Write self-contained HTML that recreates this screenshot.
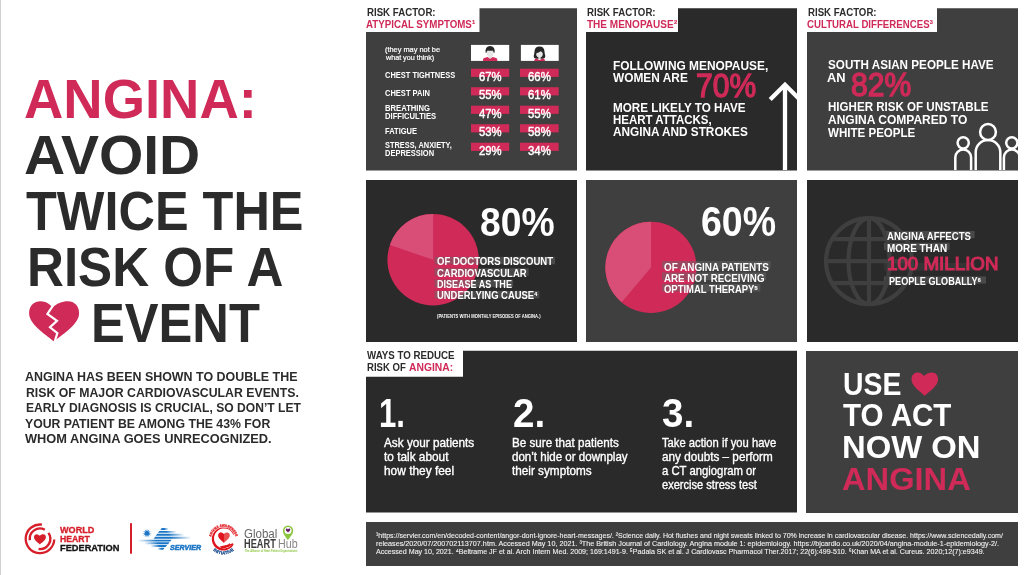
<!DOCTYPE html>
<html lang="en">
<head>
<meta charset="utf-8">
<title>Angina: avoid twice the risk of a heart event</title>
<style>
html,body{margin:0;padding:0;background:#fff}
#page{position:relative;width:1024px;height:575px;overflow:hidden;background:#fff;font-family:"Liberation Sans",sans-serif}
#page svg.bg{position:absolute;left:0;top:0}
.t{position:absolute;white-space:nowrap;line-height:1;font-weight:700;transform-origin:0 0;margin:0;padding:0}
.s{font-size:.58em;position:relative;top:-.6em;margin-left:.04em;-webkit-text-stroke:.15px currentColor}
</style>
</head>
<body>
<div id="page">
<svg class="bg" width="1024" height="575" viewBox="0 0 1024 575">
<rect x="0" y="0" width="1" height="575" fill="#d2d2d2"/>
<polygon fill="#3f3f3f" points="479.5,8.3 577,8.3 577,170.4 366,170.4 366,32 479.5,32"/>
<polygon fill="#2a2a2a" points="678,8.3 797,8.3 797,170.4 586,170.4 586,32 678,32"/>
<polygon fill="#3f3f3f" points="937,8.3 1018,8.3 1018,170.4 807,170.4 807,32 937,32"/>
<rect fill="#2a2a2a" x="366" y="180" width="211" height="162"/>
<rect fill="#3f3f3f" x="586" y="180" width="211" height="162"/>
<rect fill="#2a2a2a" x="807" y="180" width="211" height="162"/>
<polygon fill="#2a2a2a" points="463,350.8 797,350.8 797,512.6 366,512.6 366,376.7 463,376.7"/>
<rect fill="#3f3f3f" x="806" y="351" width="212" height="162"/>
<rect fill="#3f3f3f" x="366" y="522" width="652" height="44"/>
<rect fill="#fff" x="471" y="44.9" width="38.2" height="16"/>
<rect fill="#cf2a58" x="471" y="68.70" width="38.2" height="8.2"/>
<rect fill="#cf2a58" x="471" y="87.20" width="38.2" height="8.2"/>
<rect fill="#cf2a58" x="471" y="105.70" width="38.2" height="8.2"/>
<rect fill="#cf2a58" x="471" y="124.20" width="38.2" height="8.2"/>
<rect fill="#cf2a58" x="471" y="142.70" width="38.2" height="8.2"/>
<rect fill="#fff" x="520.9" y="44.9" width="37.8" height="16"/>
<rect fill="#cf2a58" x="520.0" y="68.70" width="38.7" height="8.2"/>
<rect fill="#cf2a58" x="520.0" y="87.20" width="38.7" height="8.2"/>
<rect fill="#cf2a58" x="520.0" y="105.70" width="38.7" height="8.2"/>
<rect fill="#cf2a58" x="520.0" y="124.20" width="38.7" height="8.2"/>
<rect fill="#cf2a58" x="520.0" y="142.70" width="38.7" height="8.2"/>
<clipPath id="cb1"><rect x="471" y="44.9" width="38.2" height="16"/></clipPath>
<g clip-path="url(#cb1)">
<path fill="#cf2a58" d="M483,61 L483,59.4 Q483.2,58.2 485,57.8 L487.6,56.9 L490.1,58.7 L492.6,56.9 L495.2,57.8 Q497.1,58.2 497.3,59.4 L497.3,61 Z"/>
<rect fill="#dcdcdc" x="488.7" y="55" width="2.8" height="3.2"/>
<ellipse fill="#e6e6e6" cx="490.1" cy="53.3" rx="3.4" ry="3.7"/>
<path fill="#262626" d="M485.6,52.7 Q485.0,46.1 490.1,46.1 Q495.2,46.1 494.6,52.7 L493.5,52.5 Q493.6,51.0 492.3,50.4 Q490.1,51.3 487.9,50.4 Q486.6,51.0 486.7,52.5 Z"/>
</g>
<clipPath id="cb2"><rect x="520.9" y="44.9" width="37.8" height="16"/></clipPath>
<g clip-path="url(#cb2)">
<path fill="#262626" d="M539.5,46.4 Q544.3,46.5 544.5,51.5 Q544.6,53.5 545.3,55.8 Q545.4,58.8 542.6,58.8 L536.4,58.8 Q533.6,58.8 533.7,55.8 Q534.4,53.5 534.5,51.5 Q534.7,46.5 539.5,46.4 Z"/>
<path fill="#cf2a58" d="M534.1,61 Q534.2,58.8 536.6,58.5 L539.5,60.0 L542.4,58.5 Q545.1,58.8 545.2,61 Z"/>
<rect fill="#dcdcdc" x="538.4" y="55.5" width="2.2" height="4.0"/>
<ellipse fill="#e6e6e6" cx="539.5" cy="54.0" rx="3.3" ry="3.4"/>
<path fill="#262626" d="M536.0,53.4 Q535.8,49.8 539.5,49.8 Q543.2,49.8 543.0,53.4 Q542.0,51.6 540.8,51.2 Q538.6,52.8 536.0,53.4 Z"/>
</g>
<clipPath id="cp2"><rect x="586" y="8" width="211" height="162"/></clipPath>
<g clip-path="url(#cp2)" fill="none" stroke="#fff" stroke-width="4.3">
<path d="M770.2,99.6 L785,84.8 L799.8,99.6"/>
<path d="M785,86 L785,171"/>
</g>
<clipPath id="cp3"><rect x="807" y="8" width="211" height="162"/></clipPath>
<g clip-path="url(#cp3)" fill="none" stroke="#fff" stroke-width="2.5">
<path d="M955.3000000000001,172 L955.3000000000001,157.5 A7.9,7.9 0 0 1 971.1,157.5 L971.1,172" fill="#3f3f3f"/>
<circle cx="963.2" cy="142.8" r="5.6" fill="#3f3f3f"/>
<path d="M1003.9,172 L1003.9,157.5 A7.9,7.9 0 0 1 1019.6999999999999,157.5 L1019.6999999999999,172" fill="#3f3f3f"/>
<circle cx="1011.8" cy="142.8" r="5.6" fill="#3f3f3f"/>
<path d="M975.7,172 L975.7,152.3 A12.3,12.3 0 0 1 1000.3,152.3 L1000.3,172" fill="#3f3f3f"/>
<circle cx="988" cy="132" r="7.9" fill="#3f3f3f"/>
</g>
<circle cx="433.1" cy="259.8" r="45.7" fill="#cf2a58"/>
<path fill="#d84e76" d="M433.1,259.8 L433.1,214.10000000000002 A45.7,45.7 0 0 0 389.89,244.92 Z"/>
<circle cx="651.0" cy="267.4" r="45.6" fill="#cf2a58"/>
<path fill="#d84e76" d="M651.0,267.4 L651.0,221.79999999999998 A45.6,45.6 0 0 0 621.69,302.33 Z"/>
<rect fill="rgba(104,104,104,0.5)" x="434.6" y="256.8" width="120.5" height="7.5"/>
<rect fill="rgba(104,104,104,0.5)" x="434.6" y="268.2" width="94.1" height="7.5"/>
<rect fill="rgba(104,104,104,0.5)" x="434.6" y="279.6" width="78.5" height="7.5"/>
<rect fill="rgba(104,104,104,0.5)" x="434.6" y="290.9" width="104.8" height="7.5"/>
<rect fill="rgba(104,104,104,0.5)" x="662.0" y="261.1" width="108.5" height="7.6"/>
<rect fill="rgba(104,104,104,0.5)" x="662.0" y="272.5" width="104.0" height="7.6"/>
<rect fill="rgba(104,104,104,0.5)" x="662.0" y="283.9" width="98.3" height="7.6"/>
<rect fill="rgba(104,104,104,0.5)" x="883.9" y="231.0" width="90.7" height="7.2"/>
<rect fill="rgba(104,104,104,0.5)" x="883.9" y="242.7" width="65.7" height="7.2"/>
<rect fill="rgba(104,104,104,0.5)" x="883.9" y="276.4" width="102.1" height="7.2"/>
<rect fill="rgba(104,104,104,0.16)" x="883.9" y="262.8" width="91.1" height="7.8"/>
<g fill="none" stroke="#3f3f3f" stroke-width="4.2">
<circle cx="869.0" cy="261.2" r="43.0"/>
<ellipse cx="869.0" cy="261.2" rx="20.5" ry="43.0"/>
<path d="M869.0,218.2 L869.0,304.2 M826.0,261.2 L912.0,261.2"/>
<path d="M832.1,239.2 L905.9,239.2 M832.1,283.2 L905.9,283.2"/>
</g>
<path fill="#cf2a58" transform="translate(911.5,372.5) scale(26.6,23.2)" d="M0.497,1 C0.296,0.798 0,0.56 0,0.298 C0,0.107 0.105,0 0.229,0 C0.335,0 0.411,0.071 0.469,0.155 C0.545,0.06 0.66,0 0.774,0 C0.908,0 1,0.119 1,0.298 C1,0.56 0.698,0.798 0.497,1 Z"/>
<path fill="#cf2a58" transform="translate(29.1,301.2) scale(50.0,40.2)" d="M0.497,1 C0.296,0.798 0,0.56 0,0.298 C0,0.107 0.105,0 0.229,0 C0.335,0 0.411,0.071 0.469,0.155 C0.545,0.06 0.66,0 0.774,0 C0.908,0 1,0.119 1,0.298 C1,0.56 0.698,0.798 0.497,1 Z"/>
<path fill="none" stroke="#fff" stroke-width="2.2" stroke-linejoin="miter" d="M53.8,304.4 L47.4,314.0 L57.0,320.9 L50.0,327.3 L57.4,333.2 L54.2,343"/>
<g fill="none" stroke="#d61f2a">
<path stroke-width="2.3" d="M54.28,539.55 A14.3,14.3 0 1 1 41.99,524.64"/>
<path stroke-width="2.4" d="M29.80,540.23 A10.3,10.3 0 0 1 44.84,529.71"/>
<path stroke-width="2.4" d="M48.44,532.89 A10.3,10.3 0 0 1 38.57,549.00"/>
</g>
<path fill="#d61f2a" transform="translate(34.0,534.2) scale(11.9,10.2)" d="M0.497,1 C0.296,0.798 0,0.56 0,0.298 C0,0.107 0.105,0 0.229,0 C0.335,0 0.411,0.071 0.469,0.155 C0.545,0.06 0.66,0 0.774,0 C0.908,0 1,0.119 1,0.298 C1,0.56 0.698,0.798 0.497,1 Z"/>
<rect fill="#d61f2a" x="130" y="523.2" width="2" height="30.5"/>
<defs>
<linearGradient id="sgr" x1="0" x2="1" y1="0" y2="0"><stop offset="0" stop-color="#1b75c5"/><stop offset="0.45" stop-color="#1b75c5"/><stop offset="1" stop-color="#1b75c5" stop-opacity="0"/></linearGradient>
<linearGradient id="sgl" x1="0" x2="1" y1="0" y2="0"><stop offset="0" stop-color="#1b75c5" stop-opacity="0"/><stop offset="0.55" stop-color="#1b75c5"/><stop offset="1" stop-color="#1b75c5"/></linearGradient>
</defs>
<polygon fill="url(#sgr)" points="161.8,528.05 168.5,528.05 168.5,529.95 160.4,529.95"/>
<polygon fill="url(#sgr)" points="159.3,530.95 176.5,530.95 176.5,532.85 157.9,532.85"/>
<polygon fill="url(#sgr)" points="157.2,533.85 184.5,533.85 184.5,535.75 155.8,535.75"/>
<polygon fill="url(#sgr)" points="155.1,536.75 191.5,536.75 191.5,538.65 153.7,538.65"/>
<polygon fill="url(#sgl)" points="137.5,539.65 171.6,539.65 170.2,541.55 137.5,541.55"/>
<polygon fill="url(#sgl)" points="144.0,542.35 169.5,542.35 168.1,544.25 144.0,544.25"/>
<polygon fill="url(#sgl)" points="150.5,545.05 167.0,545.05 165.6,546.95 150.5,546.95"/>
<polygon fill="url(#sgl)" points="157.5,547.75 164.6,547.75 163.2,549.65 157.5,549.65"/>
<polygon fill="#1b75c5" points="147.00,528.80 147.52,531.37 149.25,529.40 148.41,531.89 150.90,531.05 148.93,532.78 151.50,533.30 148.93,533.82 150.90,535.55 148.41,534.71 149.25,537.20 147.52,535.23 147.00,537.80 146.48,535.23 144.75,537.20 145.59,534.71 143.10,535.55 145.07,533.82 142.50,533.30 145.07,532.78 143.10,531.05 145.59,531.89 144.75,529.40 146.48,531.37"/>
<path fill="#e0141d" d="M234.16,534.65 A11.6,11.6 0 1 0 233.64,544.45 L232.66,543.40 A10.0,10.0 0 1 1 233.27,534.65 Z"/>
<path fill="#e8504f" transform="translate(218.3,532.5) scale(11.5,10.3)" d="M0.497,1 C0.296,0.798 0,0.56 0,0.298 C0,0.107 0.105,0 0.229,0 C0.335,0 0.411,0.071 0.469,0.155 C0.545,0.06 0.66,0 0.774,0 C0.908,0 1,0.119 1,0.298 C1,0.56 0.698,0.798 0.497,1 Z"/>
<clipPath id="hh"><rect x="218" y="532" width="6.05" height="12"/></clipPath>
<g clip-path="url(#hh)"><path fill="#e0141d" transform="translate(218.3,532.5) scale(11.5,10.3)" d="M0.497,1 C0.296,0.798 0,0.56 0,0.298 C0,0.107 0.105,0 0.229,0 C0.335,0 0.411,0.071 0.469,0.155 C0.545,0.06 0.66,0 0.774,0 C0.908,0 1,0.119 1,0.298 C1,0.56 0.698,0.798 0.497,1 Z"/></g>
<path fill="#e0141d" d="M219.8,546.6 Q224.4,545.2 228.2,544.4 L229.4,543.3 Q230.3,543.4 229.8,544.2 L232.8,543.2 Q233.6,543.5 232.9,544.3 L229.0,546.7 Q225.2,548.4 221.4,548.4 Z"/>
<defs><path id="aat" d="M211.39,536.88 A12.2,12.2 0 0 1 235.41,536.88"/>
<path id="aab" d="M210.63,547.61 A15.4,15.4 0 0 0 236.17,547.61"/></defs>
<text font-family="Liberation Sans, sans-serif" font-weight="700" font-size="3.7" fill="#e0141d" stroke="#e0141d" stroke-width="0.25"><textPath href="#aat" textLength="33.5" lengthAdjust="spacingAndGlyphs">ANGINA AWARENESS</textPath></text>
<text font-family="Liberation Sans, sans-serif" font-weight="700" font-size="4.3" fill="#1d4f91" stroke="#1d4f91" stroke-width="0.25"><textPath href="#aab" startOffset="3.6" textLength="23" lengthAdjust="spacingAndGlyphs">INITIATIVE</textPath></text>
<path fill="#8cc63f" d="M287.9,540.2 C285.6,536.4 282.9,534.2 282.9,530.7 A5.15,5.15 0 0 1 293.2,530.7 C293.2,534.2 290.3,536.4 287.9,540.2 Z"/>
<circle cx="288.05" cy="530.6" r="3.5" fill="#fff"/>
<path fill="#6b1d6b" transform="translate(285.8,528.6) scale(4.5,3.9)" d="M0.497,1 C0.296,0.798 0,0.56 0,0.298 C0,0.107 0.105,0 0.229,0 C0.335,0 0.411,0.071 0.469,0.155 C0.545,0.06 0.66,0 0.774,0 C0.908,0 1,0.119 1,0.298 C1,0.56 0.698,0.798 0.497,1 Z"/>
</svg>
<div class="t" style="left:23.93px;top:71px;font-size:55.96px;color:#cf2a58;transform:scaleX(0.9730)">ANGINA:</div>
<div class="t" style="left:24.18px;top:127px;font-size:55.96px;color:#2b2b2b;transform:scaleX(1.0184)">AVOID</div>
<div class="t" style="left:25.90px;top:183px;font-size:55.96px;color:#2b2b2b;transform:scaleX(0.9018)">TWICE THE</div>
<div class="t" style="left:27.26px;top:239px;font-size:55.96px;color:#2b2b2b;transform:scaleX(0.9132)">RISK OF A</div>
<div class="t" style="left:91.38px;top:295px;font-size:55.96px;color:#2b2b2b;transform:scaleX(0.9053)">EVENT</div>
<div class="t" style="left:24.60px;top:370px;font-size:13.37px;color:#2b2b2b;transform:scaleX(0.9319)">ANGINA HAS BEEN SHOWN TO DOUBLE THE</div>
<div class="t" style="left:26.10px;top:386px;font-size:13.37px;color:#2b2b2b;transform:scaleX(0.9198)">RISK OF MAJOR CARDIOVASCULAR EVENTS.</div>
<div class="t" style="left:26.10px;top:401px;font-size:13.37px;color:#2b2b2b;transform:scaleX(0.9053)">EARLY DIAGNOSIS IS CRUCIAL, SO DON’T LET</div>
<div class="t" style="left:24.60px;top:417px;font-size:13.37px;color:#2b2b2b;transform:scaleX(0.9187)">YOUR PATIENT BE AMONG THE 43% FOR</div>
<div class="t" style="left:24.60px;top:432px;font-size:13.37px;color:#2b2b2b;transform:scaleX(0.9587)">WHOM ANGINA GOES UNRECOGNIZED.</div>
<div class="t" style="left:367.00px;top:8px;font-size:10.32px;color:#2b2b2b;transform:scaleX(0.9378)">RISK FACTOR:</div>
<div class="t" style="left:366.30px;top:20px;font-size:10.32px;color:#cf2a58;transform:scaleX(0.9419)">ATYPICAL SYMPTOMS<span class="s">1</span></div>
<div class="t" style="left:587.20px;top:8px;font-size:10.32px;color:#2b2b2b;transform:scaleX(0.9378)">RISK FACTOR:</div>
<div class="t" style="left:586.50px;top:20px;font-size:10.32px;color:#cf2a58;transform:scaleX(0.9717)">THE MENOPAUSE<span class="s">2</span></div>
<div class="t" style="left:807.80px;top:8px;font-size:10.32px;color:#2b2b2b;transform:scaleX(0.9378)">RISK FACTOR:</div>
<div class="t" style="left:807.30px;top:20px;font-size:10.32px;color:#cf2a58;transform:scaleX(0.9370)">CULTURAL DIFFERENCES<span class="s">3</span></div>
<div class="t" style="left:366.50px;top:351px;font-size:10.17px;color:#2b2b2b;transform:scaleX(0.9568)">WAYS TO REDUCE</div>
<div class="t" style="left:367.20px;top:363px;font-size:10.17px;color:#2b2b2b;transform:scaleX(0.9415)">RISK OF</div>
<div class="t" style="left:408.70px;top:363px;font-size:10.17px;color:#cf2a58;transform:scaleX(1.0146)">ANGINA:</div>
<div class="t" style="left:384.90px;top:46px;font-size:7.56px;color:#ffffff;transform:scaleX(0.9782);font-weight:400;-webkit-text-stroke:0.2px #ffffff">(they may not be</div>
<div class="t" style="left:385.85px;top:54px;font-size:7.56px;color:#ffffff;transform:scaleX(0.9492);font-weight:400;-webkit-text-stroke:0.2px #ffffff">what you think)</div>
<div class="t" style="left:385.00px;top:71px;font-size:9.3px;color:#ffffff;transform:scaleX(0.8037)">CHEST TIGHTNESS</div>
<div class="t" style="left:385.00px;top:89px;font-size:9.3px;color:#ffffff;transform:scaleX(0.8084)">CHEST PAIN</div>
<div class="t" style="left:385.40px;top:104px;font-size:9.3px;color:#ffffff;transform:scaleX(0.8243)">BREATHING</div>
<div class="t" style="left:385.40px;top:112px;font-size:9.3px;color:#ffffff;transform:scaleX(0.8209)">DIFFICULTIES</div>
<div class="t" style="left:385.40px;top:127px;font-size:9.3px;color:#ffffff;transform:scaleX(0.8095)">FATIGUE</div>
<div class="t" style="left:385.00px;top:141px;font-size:9.3px;color:#ffffff;transform:scaleX(0.7960)">STRESS, ANXIETY,</div>
<div class="t" style="left:385.40px;top:149px;font-size:9.3px;color:#ffffff;transform:scaleX(0.8048)">DEPRESSION</div>
<div class="t" style="left:478.62px;top:71px;font-size:12.86px;color:#ffffff;transform:scaleX(0.8789);font-weight:400;-webkit-text-stroke:0.45px #ffffff">67%</div>
<div class="t" style="left:528.43px;top:71px;font-size:12.86px;color:#ffffff;transform:scaleX(0.8868);font-weight:400;-webkit-text-stroke:0.45px #ffffff">66%</div>
<div class="t" style="left:478.62px;top:89px;font-size:12.86px;color:#ffffff;transform:scaleX(0.8789);font-weight:400;-webkit-text-stroke:0.45px #ffffff">55%</div>
<div class="t" style="left:528.43px;top:89px;font-size:12.86px;color:#ffffff;transform:scaleX(0.8868);font-weight:400;-webkit-text-stroke:0.45px #ffffff">61%</div>
<div class="t" style="left:478.62px;top:108px;font-size:12.86px;color:#ffffff;transform:scaleX(0.8789);font-weight:400;-webkit-text-stroke:0.45px #ffffff">47%</div>
<div class="t" style="left:528.43px;top:108px;font-size:12.86px;color:#ffffff;transform:scaleX(0.8868);font-weight:400;-webkit-text-stroke:0.45px #ffffff">55%</div>
<div class="t" style="left:478.62px;top:126px;font-size:12.86px;color:#ffffff;transform:scaleX(0.8789);font-weight:400;-webkit-text-stroke:0.45px #ffffff">53%</div>
<div class="t" style="left:528.43px;top:126px;font-size:12.86px;color:#ffffff;transform:scaleX(0.8868);font-weight:400;-webkit-text-stroke:0.45px #ffffff">58%</div>
<div class="t" style="left:478.62px;top:145px;font-size:12.86px;color:#ffffff;transform:scaleX(0.8789);font-weight:400;-webkit-text-stroke:0.45px #ffffff">29%</div>
<div class="t" style="left:528.43px;top:145px;font-size:12.86px;color:#ffffff;transform:scaleX(0.8868);font-weight:400;-webkit-text-stroke:0.45px #ffffff">34%</div>
<div class="t" style="left:613.10px;top:61px;font-size:11.92px;color:#ffffff;transform:scaleX(0.9999)">FOLLOWING MENOPAUSE,</div>
<div class="t" style="left:613.10px;top:73px;font-size:11.92px;color:#ffffff;transform:scaleX(0.9983)">WOMEN ARE</div>
<div class="t" style="left:695.89px;top:70px;font-size:32.85px;color:#cf2a58;transform:scaleX(0.9143);font-weight:400;-webkit-text-stroke:1.4px #cf2a58">70%</div>
<div class="t" style="left:613.10px;top:103px;font-size:11.92px;color:#ffffff;transform:scaleX(0.9812)">MORE LIKELY TO HAVE</div>
<div class="t" style="left:613.10px;top:115px;font-size:11.92px;color:#ffffff;transform:scaleX(0.9648)">HEART ATTACKS,</div>
<div class="t" style="left:613.10px;top:127px;font-size:11.92px;color:#ffffff;transform:scaleX(0.9911)">ANGINA AND STROKES</div>
<div class="t" style="left:828.30px;top:59px;font-size:12.21px;color:#ffffff;transform:scaleX(0.9574)">SOUTH ASIAN PEOPLE HAVE</div>
<div class="t" style="left:827.30px;top:72px;font-size:12.21px;color:#ffffff;transform:scaleX(1.0518)">AN</div>
<div class="t" style="left:851.38px;top:69px;font-size:32.7px;color:#cf2a58;transform:scaleX(0.9199);font-weight:400;-webkit-text-stroke:1.4px #cf2a58">82%</div>
<div class="t" style="left:828.30px;top:101px;font-size:12.21px;color:#ffffff;transform:scaleX(0.9478)">HIGHER RISK OF UNSTABLE</div>
<div class="t" style="left:827.50px;top:114px;font-size:12.21px;color:#ffffff;transform:scaleX(0.9846)">ANGINA COMPARED TO</div>
<div class="t" style="left:827.80px;top:127px;font-size:12.21px;color:#ffffff;transform:scaleX(0.9470)">WHITE PEOPLE</div>
<div class="t" style="left:479.80px;top:201px;font-size:41.57px;color:#ffffff;transform:scaleX(0.8974)">80%</div>
<div class="t" style="left:436.80px;top:257px;font-size:10.03px;color:#ffffff;transform:scaleX(0.9537)">OF DOCTORS DISCOUNT</div>
<div class="t" style="left:436.80px;top:269px;font-size:10.03px;color:#ffffff;transform:scaleX(0.9498)">CARDIOVASCULAR</div>
<div class="t" style="left:436.80px;top:280px;font-size:10.03px;color:#ffffff;transform:scaleX(0.9014)">DISEASE AS THE</div>
<div class="t" style="left:436.80px;top:291px;font-size:10.03px;color:#ffffff;transform:scaleX(0.9414)">UNDERLYING CAUSE<span class="s">4</span></div>
<div class="t" style="left:436.80px;top:314px;font-size:5.09px;color:#ffffff;transform:scaleX(0.8188)">(PATIENTS WITH MONTHLY EPISODES OF ANGINA.)</div>
<div class="t" style="left:701.11px;top:201px;font-size:42.15px;color:#ffffff;transform:scaleX(0.8905)">60%</div>
<div class="t" style="left:664.10px;top:263px;font-size:10.03px;color:#ffffff;transform:scaleX(0.9869)">OF ANGINA PATIENTS</div>
<div class="t" style="left:664.10px;top:274px;font-size:10.03px;color:#ffffff;transform:scaleX(0.9761)">ARE NOT RECEIVING</div>
<div class="t" style="left:664.10px;top:285px;font-size:10.03px;color:#ffffff;transform:scaleX(0.9463)">OPTIMAL THERAPY<span class="s">5</span></div>
<div class="t" style="left:887.30px;top:232px;font-size:10.03px;color:#ffffff;transform:scaleX(0.9562)">ANGINA AFFECTS</div>
<div class="t" style="left:887.30px;top:244px;font-size:10.03px;color:#ffffff;transform:scaleX(0.9913)">MORE THAN</div>
<div class="t" style="left:886.79px;top:256px;font-size:17.73px;color:#cf2a58;transform:scaleX(1.0580);font-weight:400;-webkit-text-stroke:1.1px #cf2a58">100 MILLION</div>
<div class="t" style="left:889.10px;top:277px;font-size:10.03px;color:#ffffff;transform:scaleX(0.9081)">PEOPLE GLOBALLY<span class="s">6</span></div>
<div class="t" style="left:379.39px;top:393px;font-size:41.13px;color:#ffffff;transform:scaleX(0.7562)">1.</div>
<div class="t" style="left:512.66px;top:393px;font-size:41.13px;color:#ffffff;transform:scaleX(0.9389)">2.</div>
<div class="t" style="left:662.00px;top:393px;font-size:41.13px;color:#ffffff;transform:scaleX(0.9377)">3.</div>
<div class="t" style="left:384.48px;top:437px;font-size:11.99px;color:#ffffff;transform:scaleX(0.9816);font-weight:400;-webkit-text-stroke:0.35px #ffffff">Ask your patients</div>
<div class="t" style="left:384.48px;top:451px;font-size:11.99px;color:#ffffff;transform:scaleX(0.9876);font-weight:400;-webkit-text-stroke:0.35px #ffffff">to talk about</div>
<div class="t" style="left:384.48px;top:465px;font-size:11.99px;color:#ffffff;transform:scaleX(0.9927);font-weight:400;-webkit-text-stroke:0.35px #ffffff">how they feel</div>
<div class="t" style="left:512.47px;top:437px;font-size:11.99px;color:#ffffff;transform:scaleX(0.9718);font-weight:400;-webkit-text-stroke:0.35px #ffffff">Be sure that patients</div>
<div class="t" style="left:512.47px;top:451px;font-size:11.99px;color:#ffffff;transform:scaleX(0.9642);font-weight:400;-webkit-text-stroke:0.35px #ffffff">don’t hide or downplay</div>
<div class="t" style="left:512.47px;top:465px;font-size:11.99px;color:#ffffff;transform:scaleX(0.9802);font-weight:400;-webkit-text-stroke:0.35px #ffffff">their symptoms</div>
<div class="t" style="left:662.17px;top:437px;font-size:11.99px;color:#ffffff;transform:scaleX(0.9370);font-weight:400;-webkit-text-stroke:0.35px #ffffff">Take action if you have</div>
<div class="t" style="left:662.17px;top:451px;font-size:11.99px;color:#ffffff;transform:scaleX(0.9778);font-weight:400;-webkit-text-stroke:0.35px #ffffff">any doubts – perform</div>
<div class="t" style="left:662.17px;top:465px;font-size:11.99px;color:#ffffff;transform:scaleX(0.9432);font-weight:400;-webkit-text-stroke:0.35px #ffffff">a CT angiogram or</div>
<div class="t" style="left:662.17px;top:479px;font-size:11.99px;color:#ffffff;transform:scaleX(0.9245);font-weight:400;-webkit-text-stroke:0.35px #ffffff">exercise stress test</div>
<div class="t" style="left:842.77px;top:369px;font-size:30.67px;color:#ffffff;transform:scaleX(0.9253)">USE</div>
<div class="t" style="left:843.40px;top:401px;font-size:30.96px;color:#ffffff;transform:scaleX(0.9552)">TO ACT</div>
<div class="t" style="left:842.28px;top:433px;font-size:30.96px;color:#ffffff;transform:scaleX(1.0602)">NOW ON</div>
<div class="t" style="left:842.00px;top:465px;font-size:30.96px;color:#cf2a58;transform:scaleX(1.0547)">ANGINA</div>
<div class="t" style="left:376.35px;top:532px;font-size:7.41px;color:#f2f2f2;transform:scaleX(0.9486);font-weight:400;-webkit-text-stroke:0.1px #f2f2f2">¹https://servier.com/en/decoded-content/angor-dont-ignore-heart-messages/. ²Science daily. Hot flushes and night sweats linked to 70% increase in cardiovascular disease. https://www.sciencedaily.com/</div>
<div class="t" style="left:376.35px;top:540px;font-size:7.41px;color:#f2f2f2;transform:scaleX(0.9732);font-weight:400;-webkit-text-stroke:0.1px #f2f2f2">releases/2020/07/200702113707.htm. Accessed May 10, 2021. ³The British Journal of Cardiology. Angina module 1: epidemiology. https://bjcardio.co.uk/2020/04/angina-module-1-epidemiology-2/.</div>
<div class="t" style="left:376.35px;top:548px;font-size:7.41px;color:#f2f2f2;transform:scaleX(0.9578);font-weight:400;-webkit-text-stroke:0.1px #f2f2f2">Accessed May 10, 2021. ⁴Beltrame JF et al. Arch Intern Med. 2009; 169:1491-9. ⁵Padala SK et al. J Cardiovasc Pharmacol Ther.2017; 22(6):499-510. ⁶Khan MA et al. Cureus. 2020;12(7):e9349.</div>
<div class="t" style="left:60.05px;top:526px;font-size:8.43px;color:#d61f2a;transform:scaleX(1.0778);-webkit-text-stroke:0.3px #d61f2a">WORLD</div>
<div class="t" style="left:60.05px;top:535px;font-size:8.43px;color:#d61f2a;transform:scaleX(1.0277);-webkit-text-stroke:0.3px #d61f2a">HEART</div>
<div class="t" style="left:60.05px;top:544px;font-size:8.43px;color:#151515;transform:scaleX(1.0991);-webkit-text-stroke:0.3px #151515">FEDERATION</div>
<div class="t" style="left:170.15px;top:544px;font-size:7.27px;color:#1b75c5;transform:scaleX(0.9737);font-style:italic;-webkit-text-stroke:0.5px #1b75c5">SERVIER</div>
<div class="t" style="left:244.30px;top:528px;font-size:12.21px;color:#666666;transform:scaleX(0.9430);font-weight:400">Global</div>
<div class="t" style="left:244.30px;top:538px;font-size:12.21px;color:#3c3c3c;transform:scaleX(0.7583)">HEART</div>
<div class="t" style="left:278.13px;top:538px;font-size:12.21px;color:#858585;transform:scaleX(0.8748);font-weight:400">Hub</div>
<div class="t" style="left:245.00px;top:551px;font-size:2.76px;color:#8cc63f;transform:scaleX(0.9293)">The Alliance of Heart Patient Organisations</div>
</div>
</body>
</html>
